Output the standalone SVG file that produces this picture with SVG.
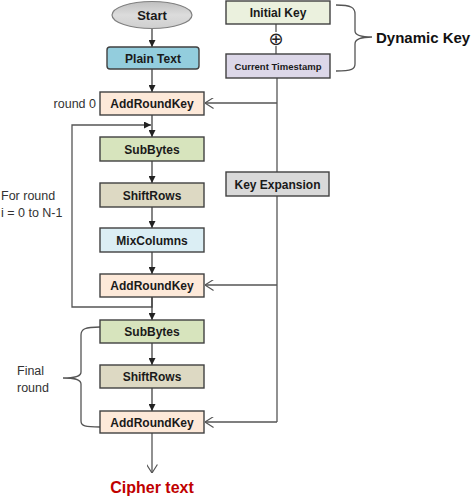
<svg xmlns="http://www.w3.org/2000/svg" width="474" height="497" viewBox="0 0 474 497">
<defs>
<linearGradient id="gStart" x1="0" y1="0" x2="0" y2="1">
<stop offset="0" stop-color="#bfbfbf"/><stop offset="0.5" stop-color="#dcdcdc"/><stop offset="1" stop-color="#cfcfcf"/>
</linearGradient>
<marker id="fa" viewBox="0 0 8 8" refX="8" refY="4" markerWidth="7" markerHeight="7" markerUnits="userSpaceOnUse" orient="auto">
<path d="M0 0 L8 4 L0 8 Z" fill="#222"/>
</marker>
<marker id="oa" viewBox="0 0 10 12" refX="9.5" refY="6" markerWidth="9" markerHeight="11" markerUnits="userSpaceOnUse" orient="auto">
<path d="M0 0 L9.5 6 L0 12" fill="none" stroke="#555" stroke-width="1.3"/>
</marker>
<style>
.box{stroke:#404040;stroke-width:1.4}
.lbl{font-family:"Liberation Sans",Arial,sans-serif;font-weight:bold;font-size:12px;fill:#1a1a1a;text-anchor:middle}
.txt{font-family:"Liberation Sans",Arial,sans-serif;font-size:12.5px;fill:#333}
.ln{fill:none;stroke:#555;stroke-width:1.3}
.flow{fill:none;stroke:#333;stroke-width:1.2}
</style>
</defs>
<rect width="474" height="497" fill="#fff"/>

<g id="connectors">
<line class="flow" x1="152" y1="28" x2="152" y2="47" marker-end="url(#fa)"/>
<line class="flow" x1="152" y1="69" x2="152" y2="92" marker-end="url(#fa)"/>
<line class="flow" x1="152" y1="115" x2="152" y2="137" marker-end="url(#fa)"/>
<polyline class="ln" points="152,297 152,307 72,307 72,125 151,125" marker-end="url(#fa)"/>
<line class="flow" x1="152" y1="161" x2="152" y2="183" marker-end="url(#fa)"/>
<line class="flow" x1="152" y1="207" x2="152" y2="228" marker-end="url(#fa)"/>
<line class="flow" x1="152" y1="252" x2="152" y2="274" marker-end="url(#fa)"/>
<line class="flow" x1="152" y1="297" x2="152" y2="320" marker-end="url(#fa)"/>
<line class="flow" x1="152" y1="343" x2="152" y2="365" marker-end="url(#fa)"/>
<line class="flow" x1="152" y1="388" x2="152" y2="411" marker-end="url(#fa)"/>
<line class="ln" x1="152" y1="433" x2="152" y2="473" marker-end="url(#oa)"/>
<line class="ln" x1="276" y1="24" x2="276" y2="54"/>
<line class="ln" x1="277" y1="78" x2="277" y2="422"/>
<line class="ln" x1="277" y1="103" x2="205" y2="103" marker-end="url(#oa)"/>
<line class="ln" x1="277" y1="285" x2="205" y2="285" marker-end="url(#oa)"/>
<line class="ln" x1="277" y1="422" x2="205" y2="422" marker-end="url(#oa)"/>
<path class="ln" d="M336 5 C352 5 355 8 355 14 L355 31 C355 35 360 37 372 37 C360 37 355 39 355 44 L355 64 C355 69 352 71 336 71"/>
<path class="ln" d="M100 327 C85 327 81 329 81 335 L81 372 C81 376 77 378 63 378 C77 378 81 380 81 384 L81 421 C81 426 85 427 100 427"/>
</g>

<g id="start">
<ellipse cx="152" cy="15" rx="40" ry="13.5" fill="url(#gStart)" stroke="#7f7f7f" stroke-width="1.2"/>
<text class="lbl" x="152" y="20" style="font-size:13px">Start</text>
</g>
<g id="plaintext">
<rect class="box" x="107" y="47" width="92" height="22" rx="3" fill="#93cddd"/>
<text class="lbl" x="153" y="62.5">Plain Text</text>
</g>
<g id="ark0">
<rect class="box" x="100" y="92" width="104" height="23" fill="#fde9d9"/>
<text class="lbl" x="152" y="108">AddRoundKey</text>
<text class="txt" x="96" y="107.5" text-anchor="end">round 0</text>
</g>
<g id="subbytes1">
<rect class="box" x="100" y="137" width="104" height="24" fill="#d7e4bd"/>
<text class="lbl" x="152" y="153.5">SubBytes</text>
</g>
<g id="shiftrows1">
<rect class="box" x="100" y="183" width="104" height="24" fill="#ddd9c3"/>
<text class="lbl" x="152" y="199.5">ShiftRows</text>
</g>
<g id="mixcolumns">
<rect class="box" x="100" y="228" width="104" height="24" fill="#dbeef4"/>
<text class="lbl" x="152" y="244.5">MixColumns</text>
</g>
<g id="ark1">
<rect class="box" x="100" y="274" width="104" height="23" fill="#fde9d9"/>
<text class="lbl" x="152" y="290">AddRoundKey</text>
</g>
<g id="loop-label">
<text class="txt" x="1" y="200">For round</text>
<text class="txt" x="1" y="217">i = 0 to N-1</text>
</g>
<g id="subbytes2">
<rect class="box" x="100" y="320" width="104" height="23" fill="#d7e4bd"/>
<text class="lbl" x="152" y="336">SubBytes</text>
</g>
<g id="shiftrows2">
<rect class="box" x="100" y="365" width="104" height="23" fill="#ddd9c3"/>
<text class="lbl" x="152" y="381">ShiftRows</text>
</g>
<g id="ark2">
<rect class="box" x="100" y="411" width="104" height="22" fill="#fde9d9"/>
<text class="lbl" x="152" y="426.5">AddRoundKey</text>
</g>
<g id="final-label">
<text class="txt" x="17" y="375">Final</text>
<text class="txt" x="17" y="392">round</text>
</g>
<g id="cipher">
<text x="152" y="493" text-anchor="middle" style="font-family:'Liberation Sans',Arial,sans-serif;font-weight:bold;font-size:16px;fill:#c00000">Cipher text</text>
</g>
<g id="initialkey">
<rect class="box" x="226" y="1" width="104" height="23" fill="#ebf1de"/>
<text class="lbl" x="278" y="17">Initial Key</text>
</g>
<g id="xor">
<rect x="269" y="32" width="14" height="14" fill="#fff"/>
<text x="276" y="45" text-anchor="middle" style="font-family:'DejaVu Sans',sans-serif;font-size:18px;fill:#222">⊕</text>
</g>
<g id="timestamp">
<rect class="box" x="226" y="54" width="104" height="24" fill="#dcd7e8"/>
<text class="lbl" x="278" y="69.5" style="font-size:9.5px">Current Timestamp</text>
</g>
<g id="dynamickey">
<text x="376" y="43" style="font-family:'Liberation Sans',Arial,sans-serif;font-weight:bold;font-size:15px;fill:#111">Dynamic Key</text>
</g>
<g id="keyexpansion">
<rect class="box" x="226" y="172" width="103" height="24" fill="#d9d9d9"/>
<text class="lbl" x="277.5" y="188.5">Key Expansion</text>
</g>
</svg>
